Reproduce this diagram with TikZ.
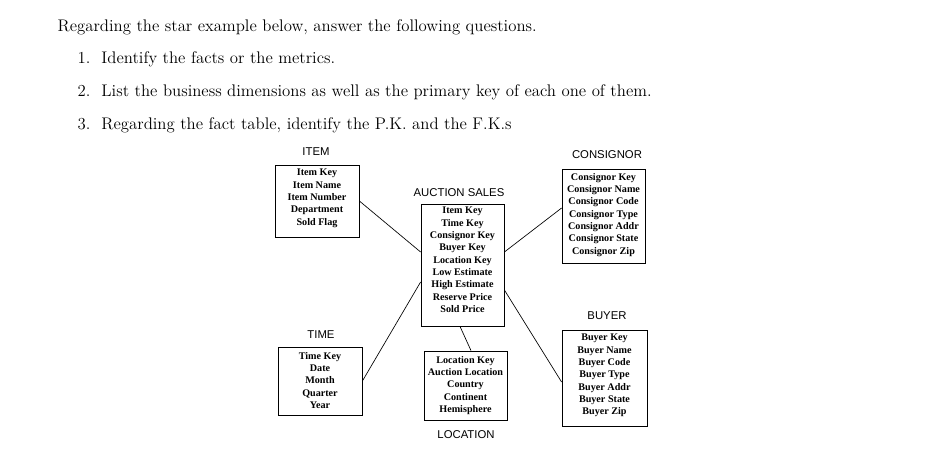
\documentclass[tikz,border=0pt]{standalone}
\usepackage{fontspec}
\newfontfamily\tms{Liberation Serif}
\newfontfamily\ars{Liberation Sans}
\begin{document}
\begin{tikzpicture}[x=0.75pt,y=-0.75pt,
  box/.style={draw,line width=0.6pt,inner sep=0pt},
  txt/.style={anchor=north,align=center,inner sep=0pt,
    font=\tms\bfseries\fontsize{7.6}{9.25}\selectfont},
  lbl/.style={font=\ars\fontsize{8.5}{9}\selectfont},
  q/.style={anchor=west,font=\fontsize{12.6}{14}\selectfont},
  con/.style={line width=0.5pt}]
\useasboundingbox (0,0) rectangle (940,458);
\node[q] (h) at (53,27) {Regarding the star example below, answer the following questions.};
\node[q] (q1) at (73,59) {1.\ \ Identify the facts or the metrics.};
\node[q] (q2) at (73,92) {2.\ \ List the business dimensions as well as the primary key of each one of them.};
\node[q] (q3) at (73,125) {3.\ \ Regarding the fact table, identify the P.K.\ and the F.K.s};

\node[box,minimum width=84*0.75pt,minimum height=72*0.75pt] (item) at (317,201) {};
\node[txt] (itemT) at (317,169) {Item Key\\Item Name\\Item Number\\Department\\Sold Flag};
\node[lbl] (itemL) at (316,152) {ITEM};

\node[box,minimum width=83*0.75pt,minimum height=122*0.75pt] (auc) at (462.5,265) {};
\node[txt] (aucT) at (462.5,207) {Item Key\\Time Key\\Consignor Key\\Buyer Key\\Location Key\\Low Estimate\\High Estimate\\Reserve Price\\Sold Price};
\node[lbl] (aucL) at (459,193) {AUCTION SALES};

\node[box,minimum width=83*0.75pt,minimum height=94*0.75pt] (con) at (603.5,216) {};
\node[txt] (conT) at (603.5,173) {Consignor Key\\Consignor Name\\Consignor Code\\Consignor Type\\Consignor Addr\\Consignor State\\Consignor Zip};
\node[lbl] (conL) at (607,155) {CONSIGNOR};

\node[box,minimum width=84*0.75pt,minimum height=68*0.75pt] (time) at (320,381) {};
\node[txt] (timeT) at (320,352) {Time Key\\Date\\Month\\Quarter\\Year};
\node[lbl] (timeL) at (321,335) {TIME};

\node[box,minimum width=83*0.75pt,minimum height=69*0.75pt] (loc) at (465.5,385.5) {};
\node[txt] (locT) at (465.5,356) {Location Key\\Auction Location\\Country\\Continent\\Hemisphere};
\node[lbl] (locL) at (466,435) {LOCATION};

\node[box,minimum width=85*0.75pt,minimum height=96*0.75pt] (buy) at (604.5,378) {};
\node[txt] (buyT) at (604.5,334) {Buyer Key\\Buyer Name\\Buyer Code\\Buyer Type\\Buyer Addr\\Buyer State\\Buyer Zip};
\node[lbl] (buyL) at (607,316) {BUYER};

\draw[con] (item.east) -- ([yshift=13*0.75pt]auc.west);
\draw[con] ([yshift=8*0.75pt]con.west) -- ([yshift=13*0.75pt]auc.east);
\draw[con] (time.east) -- ([yshift=-17*0.75pt]auc.west);
\draw[con] ([xshift=-2.5*0.75pt]auc.south) -- ([xshift=5.5*0.75pt]loc.north);
\draw[con] ([yshift=-4*0.75pt]buy.west) -- ([yshift=-25*0.75pt]auc.east);
\end{tikzpicture}
\end{document}
